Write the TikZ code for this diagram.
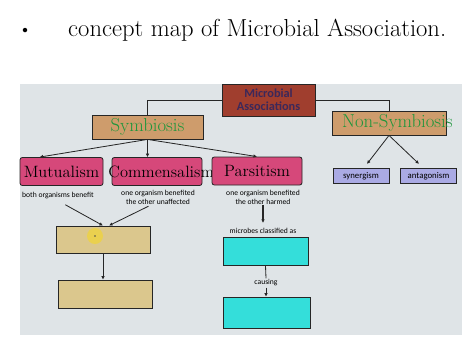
\documentclass[tikz,border=0pt]{standalone}
\usepackage{fontspec}
\newfontfamily\printed{Carlito}
\usetikzlibrary{
    arrows.meta,
    positioning
}
\definecolor{panelGrey}{RGB}{223,228,231}
\definecolor{microRed}{RGB}{160,62,46}
\definecolor{microInk}{RGB}{60,40,90}
\definecolor{symbTan}{RGB}{206,156,108}
\definecolor{relPink}{RGB}{214,72,122}
\definecolor{lavBlue}{RGB}{170,170,228}
\definecolor{boxTan}{RGB}{219,199,141}
\definecolor{boxCyan}{RGB}{52,222,218}
\definecolor{penGreen}{RGB}{30,150,60}
\tikzset{
  box/.style    = {draw=black!85, line width=0.7pt, inner sep=0pt, align=center},
  hand/.style   = {font=\fontsize{14}{16}\selectfont},
  ghand/.style  = {font=\fontsize{16}{18}\selectfont, text=penGreen},
  pinkbox/.style= {box, fill=relPink, rounded corners=2pt,
                   minimum height=8.4mm, hand},
  lavbox/.style = {box, fill=lavBlue, minimum width=16.8mm,
                   minimum height=4.6mm, font=\printed\fontsize{7.5}{8}\selectfont},
  small/.style  = {align=center, inner sep=1pt,
                   font=\printed\fontsize{6.5}{7.5}\selectfont},
  arr/.style    = {-{Latex[length=3pt,width=3pt]}, line width=0.7pt, black!85},
  link/.style   = {line width=0.7pt, black!85}
}

\begin{document}
\begin{tikzpicture}[x=0.3mm, y=-0.3mm]
    \useasboundingbox (0,0) rectangle (474,355);
    \fill[panelGrey] (20,84) rectangle (462,335);
    \node at (25,31) {\fontsize{14}{16}\selectfont\textbullet};
    \node[anchor=west, inner sep=0pt] (title) at (68,30)
        {\fontsize{21}{24}\selectfont concept map of Microbial Association.};

    \node[box, fill=microRed, minimum width=27.9mm, minimum height=9.6mm,
          text=microInk, font=\printed\bfseries\fontsize{10.5}{11}\selectfont]
          (micro) at (268.5,100) {Microbial\\Associations};
    \node[box, fill=symbTan, minimum width=33.3mm, minimum height=7.2mm, ghand]
          (symb) at (147.5,127) {Symbiosis};
    \node[box, fill=symbTan, minimum width=34.2mm, minimum height=7.2mm, ghand]
          (nonsymb) at (389,123) {\makebox[0pt]{\hspace{5mm}Non-Symbiosis}};

    \node[pinkbox, minimum width=24.9mm] (mutu) at (61.5,171.5) {Mutualism};
    \node[pinkbox, minimum width=27mm] (comm) at (157,171.5)
          {\makebox[0pt]{\hspace{2.5mm}Commensalism}};
    \node[pinkbox, minimum width=27mm] (pars) at (257,171) {Parsitism};
    \node[lavbox] (syn) at (361,176) {synergism};
    \node[lavbox] (ant) at (428.5,176) {antagonism};

    \node[small] (mututxt) at (58,196) {both organisms benefit};
    \node[small] (commtxt) at (158,197) {one organism benefited\\the other unaffected};
    \node[small] (parstxt) at (263,197) {one organism benefited\\the other harmed};

    \node[box, fill=boxTan, minimum width=28.2mm, minimum height=8.1mm]
          (tanA) at (103,239.5) {};
    \node[box, fill=boxTan, minimum width=28.2mm, minimum height=8.4mm]
          (tanB) at (105,294) {};
    \fill[yellow!80!orange, opacity=0.45] (95,236) circle (8);
    \fill[black!70] (95,236) circle (0.9);

    \node[small] (classtxt) at (263,231) {microbes classified as};
    \node[box, fill=boxCyan, minimum width=25.5mm, minimum height=8.4mm]
          (cyanA) at (265.5,251.5) {};
    \node[small] (causetxt) at (266,283) {causing};
    \node[box, fill=boxCyan, minimum width=26.1mm, minimum height=9.3mm]
          (cyanB) at (266.5,312.5) {};

    \draw[link] (micro.west) -| (symb.north);
    \draw[link] (micro.east) -| (nonsymb.north);
    \draw[arr] (symb.south) -- ([xshift=6mm]mutu.north west);
    \draw[arr] (symb.south) -- (symb.south |- comm.north);
    \draw[arr] (symb.south) -- (pars.north);
    \draw[arr] (nonsymb.south) -- ([xshift=1.8mm, yshift=1.2mm]syn.north);
    \draw[arr] (nonsymb.south) -- ([xshift=-2.85mm, yshift=1.2mm]ant.north);
    \draw[arr, shorten <=2.5mm] (mututxt.south) -- (tanA.north);
    \draw[arr, shorten <=0.5mm] ([xshift=-2.4mm]commtxt.south) -- ([xshift=1.8mm]tanA.north);
    \draw[arr] (tanA.south) -- (tanA.south |- tanB.north);
    \draw[arr, line width=1pt, shorten >=1.2mm] (parstxt.south) -- (classtxt.north);
    \draw[link] (cyanA.south) -- (causetxt.north);
    \draw[arr] (causetxt.south) -- (causetxt.south |- cyanB.north);
\end{tikzpicture}
\end{document}
